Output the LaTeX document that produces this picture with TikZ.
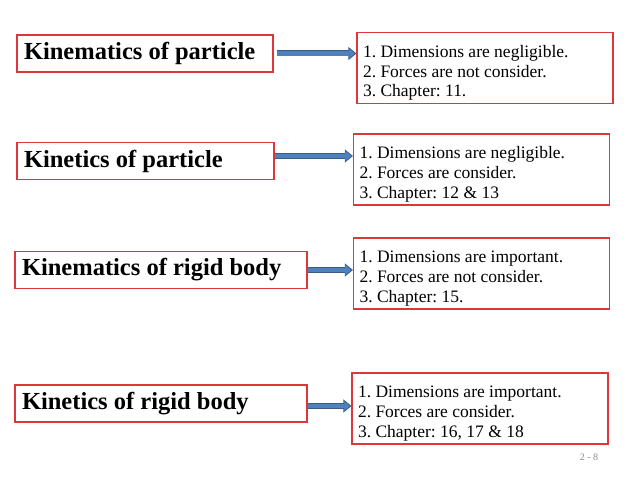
\documentclass[tikz,border=0pt]{standalone}
\usepackage{fontspec}
\setmainfont{Liberation Serif}
\usetikzlibrary{positioning,
        arrows.meta}
\definecolor{boxred}{RGB}{224,54,58}
\definecolor{arrowfill}{RGB}{79,129,189}
\definecolor{arrowline}{RGB}{56,93,138}
\definecolor{pagegray}{RGB}{140,140,140}
\frenchspacing

\begin{document}
\begin{tikzpicture}[x=1pt,y=-1pt,
    topic/.style={draw=boxred,line width=1.2pt,minimum height=37pt,inner xsep=7pt,
        text width=#1,align=flush left,font=\fontsize{24.5}{28}\selectfont\bfseries},
    info/.style={draw=boxred,line width=1.2pt,minimum height=71pt,inner xsep=6pt,inner ysep=2pt,
        text width=244pt,align=flush left,font=\fontsize{17.5}{19.8}\selectfont,
        execute at begin node=\rule{0pt}{22pt}},
    shaft/.style={draw=arrowline,line width=6pt,
        -{Triangle[length=8pt,width=13pt,line width=0.8pt,fill=arrowfill]}},
    core/.style={draw=arrowfill,line width=4.4pt,shorten >=7.4pt,shorten <=0.8pt}]
    \useasboundingbox (0,0) rectangle (638,478);

    \node [topic=242pt] (kinem) at (145,53.5) {Kinematics of particle};
    \node [topic=243pt] (kinet) at (145.5,161) {Kinetics of particle};
    \node [topic=278pt] (kinemrb) at (161,270) {Kinematics of rigid body};
    \node [topic=278pt] (kinetrb) at (161,403.5) {Kinetics of rigid body};

    \node [info] (kinemtxt) at (485,68) {1. Dimensions are negligible.\\2. Forces are not consider.\\3. Chapter: 11.};
    \node [info] (kinettxt) at (481.5,169.5) {1. Dimensions are negligible.\\2. Forces are consider.\\3. Chapter: 12 \& 13};
    \node [info] (kinemrbtxt) at (481.5,273.5) {1. Dimensions are important.\\2. Forces are not consider.\\3. Chapter: 15.};
    \node [info] (kinetrbtxt) at (480,408.5) {1. Dimensions are important.\\2. Forces are consider.\\3. Chapter: 16, 17 \& 18};

    \node [font=\fontsize{10}{12}\selectfont,text=pagegray] (pageno) at (589,457) {2 - 8};

    \draw [shaft] ([xshift=3pt]kinem.east) -- (kinem.east -| kinemtxt.west);
    \draw [core] ([xshift=3pt]kinem.east) -- (kinem.east -| kinemtxt.west);
    \draw [shaft] ([yshift=5pt]kinet.east) -- ([yshift=5pt]kinet.east -| kinettxt.west);
    \draw [core] ([yshift=5pt]kinet.east) -- ([yshift=5pt]kinet.east -| kinettxt.west);
    \draw [shaft] (kinemrb.east) -- (kinemrb.east -| kinemrbtxt.west);
    \draw [core] (kinemrb.east) -- (kinemrb.east -| kinemrbtxt.west);
    \draw [shaft] ([yshift=-2.5pt]kinetrb.east) -- ([yshift=-2.5pt]kinetrb.east -| kinetrbtxt.west);
    \draw [core] ([yshift=-2.5pt]kinetrb.east) -- ([yshift=-2.5pt]kinetrb.east -| kinetrbtxt.west);
\end{tikzpicture}
\end{document}
